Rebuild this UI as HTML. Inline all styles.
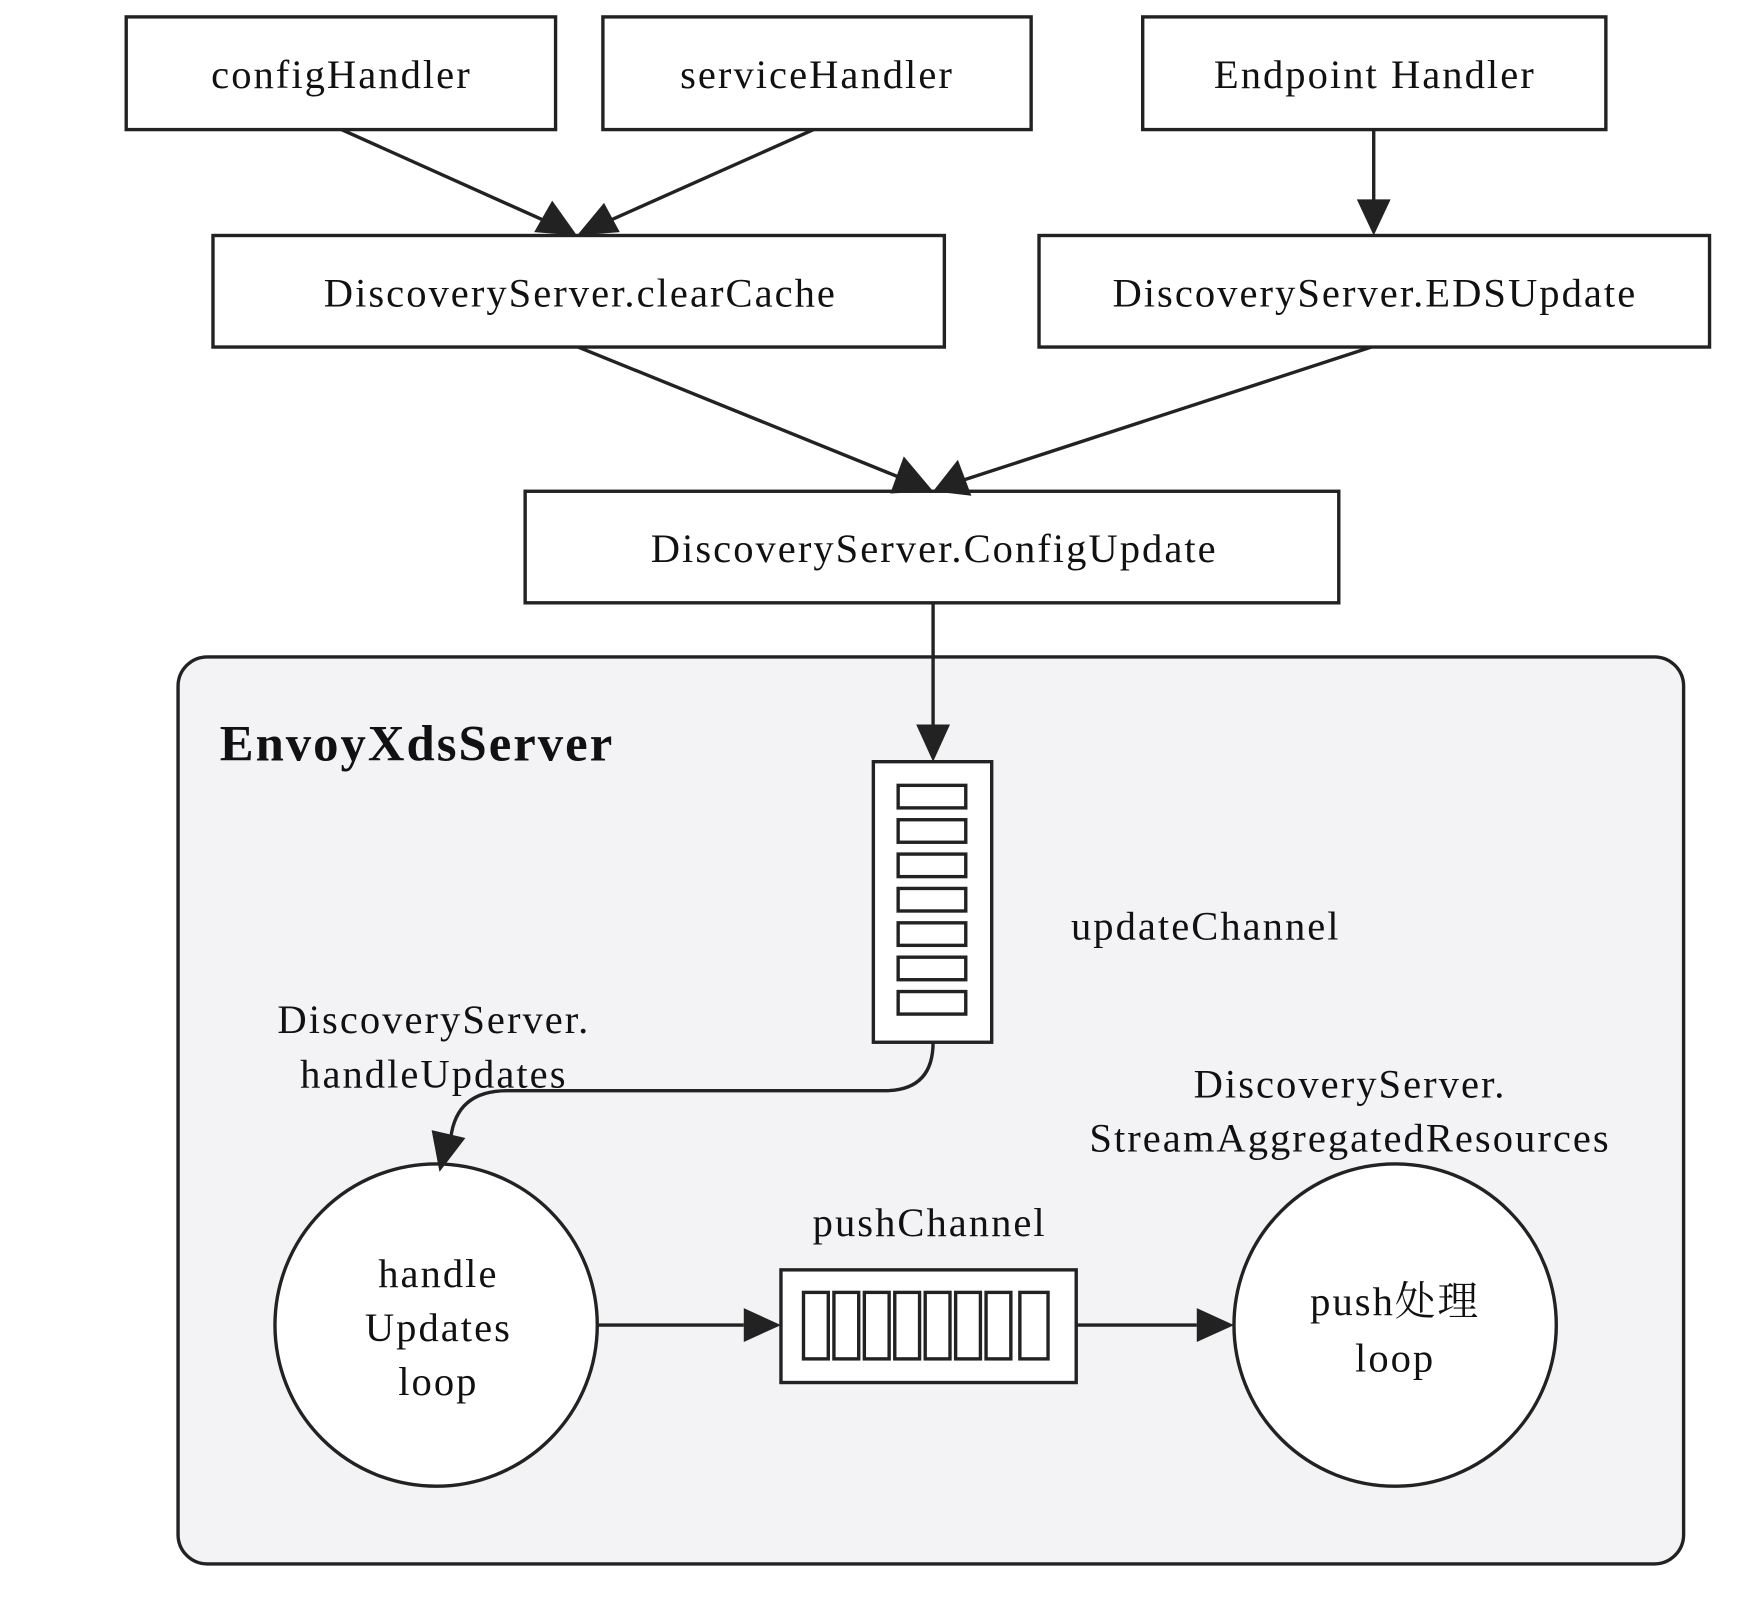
<!DOCTYPE html>
<html><head><meta charset="utf-8"><style>
html,body{margin:0;padding:0;background:#fff;}
svg{display:block}
text{font-family:"Liberation Serif","Noto Serif CJK SC","Noto Sans CJK SC",serif;fill:#111;letter-spacing:1.8px;}
</style></head><body>
<svg width="1758" height="1600" viewBox="0 0 1560 1420" preserveAspectRatio="none" xmlns="http://www.w3.org/2000/svg">
<rect x="0" y="0" width="1560" height="1420" fill="#fff"/>
<rect x="158" y="583" width="1336" height="805" rx="26" fill="#f3f2f5" stroke="#222" stroke-width="3"/>
<g fill="#fff" stroke="#222" stroke-width="3">
<rect x="112" y="15" width="381" height="100"/>
<rect x="535" y="15" width="380" height="100"/>
<rect x="1014" y="15" width="411" height="100"/>
<rect x="189" y="209" width="649" height="99"/>
<rect x="922" y="209" width="595" height="99"/>
<rect x="466" y="436" width="722" height="99"/>
<rect x="775" y="676" width="105" height="249"/>
<rect x="693" y="1127" width="262" height="100"/>
<circle cx="387" cy="1176" r="143"/>
<circle cx="1238" cy="1176" r="143"/>
</g>
<g fill="none" stroke="#222" stroke-width="3">
<rect x="797" y="697" width="60" height="20"/>
<rect x="797" y="727.5" width="60" height="20"/>
<rect x="797" y="758" width="60" height="20"/>
<rect x="797" y="788.5" width="60" height="20"/>
<rect x="797" y="819" width="60" height="20"/>
<rect x="797" y="849.5" width="60" height="20"/>
<rect x="797" y="880" width="60" height="20"/>
<rect x="713" y="1147" width="22" height="59"/>
<rect x="740" y="1147" width="22" height="59"/>
<rect x="767" y="1147" width="22" height="59"/>
<rect x="794" y="1147" width="22" height="59"/>
<rect x="821" y="1147" width="22" height="59"/>
<rect x="848" y="1147" width="22" height="59"/>
<rect x="875" y="1147" width="22" height="59"/>
<rect x="905" y="1147" width="25" height="59"/>
<line x1="303" y1="115" x2="488" y2="198"/>
<line x1="722" y1="115" x2="536" y2="198"/>
<line x1="1219" y1="115" x2="1219" y2="180"/>
<line x1="513" y1="308" x2="804" y2="426"/>
<line x1="1217" y1="308" x2="852" y2="427"/>
<line x1="828" y1="535" x2="828" y2="645"/>
<path d="M828 925 Q828 968 785 968 L450 968 Q405 968 400 1010"/>
<line x1="530" y1="1176" x2="660" y2="1176"/>
<line x1="955" y1="1176" x2="1062" y2="1176"/>
</g>
<g fill="#222">
<polygon points="512,209 474,206 490,178"/>
<polygon points="512,209 536,180 550,206"/>
<polygon points="1219,209 1204,177 1234,177"/>
<polygon points="828,436 790,438 802,405"/>
<polygon points="828,436 850,408 862,440"/>
<polygon points="828,676 813,643 843,643"/>
<polygon points="390,1040 383,1003 413,1010"/>
<polygon points="693,1176 660,1161 660,1191"/>
<polygon points="1095,1176 1062,1161 1062,1191"/>
</g>
<g font-size="36" text-anchor="middle">
<text x="303" y="78">configHandler</text>
<text x="725" y="78">serviceHandler</text>
<text x="1220" y="78">Endpoint Handler</text>
<text x="515" y="272">DiscoveryServer.clearCache</text>
<text x="1220" y="272">DiscoveryServer.EDSUpdate</text>
<text x="829" y="499">DiscoveryServer.ConfigUpdate</text>
<text x="1070" y="834">updateChannel</text>
<text x="385" y="917">DiscoveryServer.</text>
<text x="385" y="965">handleUpdates</text>
<text x="825" y="1097">pushChannel</text>
<text x="1198" y="974">DiscoveryServer.</text>
<text x="1198" y="1022">StreamAggregatedResources</text>
<text x="389" y="1142">handle</text>
<text x="389" y="1190">Updates</text>
<text x="389" y="1238">loop</text>
<text x="1238" y="1167">push处理</text>
<text x="1238" y="1217">loop</text>
</g>
<text x="195" y="675" font-size="45" font-weight="bold">EnvoyXdsServer</text>
</svg>
</body></html>
